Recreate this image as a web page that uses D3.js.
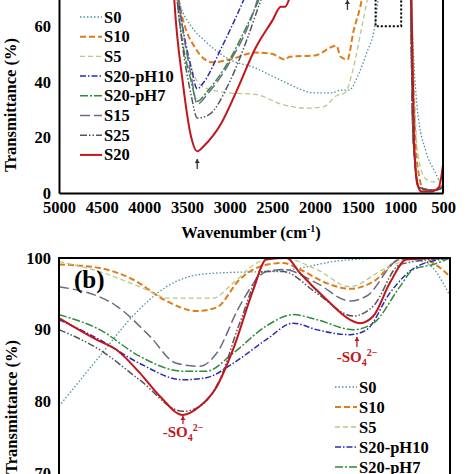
<!DOCTYPE html><html><head><meta charset="utf-8">
<script src="https://cdn.jsdelivr.net/npm/d3@7"></script>
<style>body{margin:0;background:#fff}text{font-family:"Liberation Serif",serif;font-weight:bold}</style>
</head><body><svg id="c" width="474" height="474"></svg>
<script>
// ---- Panel (a) data: [wavenumber, transmittance]
const seriesNames = ["S0","S10","S5","S20-pH10","S20-pH7","S15","S25","S20"];
const aS0 = [[3700,100],[3600,70],[3450,60],[3300,55],[3000,48],[2700,45],[2500,42],[2360,40],[2000,36],[1800,36],[1700,37],[1600,37],[1500,42],[1400,50],[1300,60],[1250,72],[1150,95],[1000,100],[900,99],[860,60],[800,30],[700,15],[600,8],[520,4],[500,5]];
const aS10 = [[3700,100],[3600,70],[3400,52],[3200,47],[3000,48],[2700,50.5],[2500,50],[2350,48],[2300,49],[2000,49.5],[1750,53],[1700,49],[1620,48],[1550,58],[1450,70],[1400,80],[1200,97],[1000,100],[900,99],[860,50],[800,10],[720,1],[600,1],[500,3]];
const aS5 = [[3700,100],[3600,70],[3450,45],[3300,38],[3000,36],[2700,35.5],[2400,32],[2100,30.5],[1900,31],[1750,35],[1650,36],[1550,45],[1450,60],[1350,75],[1200,95],[1000,100],[900,99],[860,60],[800,15],[700,5],[600,4],[500,5]];
const aPH10 = [[3700,100],[3600,70],[3450,45],[3380,37.5],[3300,40],[3100,52],[2900,65],[2800,72],[2600,88],[2300,98],[1500,99],[1000,100],[900,98],[850,20],[780,2],[600,1],[500,2]];
const aPH7 = [[3700,100],[3600,65],[3450,40],[3380,33],[3250,37],[3000,48],[2800,60],[2650,70],[2400,88],[2000,98],[1000,100],[900,98],[850,20],[780,2],[600,1],[500,2]];
const aS15 = [[3700,100],[3600,70],[3450,42],[3380,32],[3250,36],[3000,47],[2700,67],[2650,72],[2400,90],[2000,98],[1000,100],[900,98],[850,20],[780,2],[600,1],[500,2]];
const aS25 = [[3700,100],[3600,65],[3450,35],[3380,27],[3250,28],[3000,40],[2800,55],[2650,68],[2400,86],[2000,97],[1000,100],[900,98],[850,20],[780,2],[600,1],[500,2]];
const aS20 = [[3700,100],[3650,70],[3550,40],[3450,20],[3380,15],[3300,17],[3100,25],[2900,38],[2700,52],[2500,62],[2400,67],[2350,67],[2300,70],[2200,85],[2000,95],[1500,98],[1100,99],[900,98],[870,70],[840,20],[800,3],[750,0.5],[650,0.5],[550,2],[500,10]];
const aTicksX = [5000,4500,4000,3500,3000,2500,2000,1500,1000,500];
const aTicksY = [0,20,40,60];
// ---- Panel (b) data: [relative position 0..1, transmittance]
const bS0 = [[0,79.3],[.104,86.3],[.189,91.9],[.275,96],[.36,97.7],[.445,98],[.53,98.1],[.616,98.6],[.701,99.5],[.787,99.9],[.872,100],[.94,99.3],[1,94.7]];
const bS10 = [[0,99.1],[.104,98.6],[.189,97],[.275,94],[.352,92.6],[.403,93.1],[.462,97],[.514,98.8],[.573,99.3],[.616,98.4],[.684,96.5],[.744,95.7],[.804,96.7],[.872,99.8],[.923,100],[.957,99.3],[1,97.4]];
const bS5 = [[0,99.5],[.104,98.1],[.206,96],[.283,94.4],[.394,94.4],[.445,96.5],[.514,99.5],[.573,100],[.659,98.4],[.744,96],[.83,98.4],[.915,100],[1,100]];
const bPH10 = [[0,91.4],[.104,88.6],[.206,85.3],[.317,83],[.377,83.3],[.445,85.3],[.53,88.6],[.599,90.9],[.659,90],[.744,89.3],[.787,90],[.846,95.1],[.915,98.8],[1,100]];
const bPH7 = [[0,92.1],[.104,90],[.206,86.3],[.317,84.2],[.377,84.2],[.445,86.7],[.53,90.5],[.599,92.1],[.659,91.4],[.753,90],[.804,90.9],[.872,96],[.906,98.4],[.957,99.1],[1,100]];
const bS15 = [[0,96],[.147,93.3],[.232,89.1],[.3,85.3],[.36,84.9],[.403,86.7],[.462,93.3],[.53,98.1],[.573,98.4],[.659,96.5],[.744,94],[.787,94.7],[.872,99.8],[1,100]];
const bS25 = [[0,90],[.104,87.2],[.206,83],[.317,78.6],[.36,79.3],[.411,83],[.462,90.9],[.522,98.1],[.573,98.1],[.659,95.1],[.753,91.9],[.804,93.3],[.872,99.1],[1,100]];
const bS20 = [[0,91.6],[.096,88.6],[.147,87.2],[.206,84],[.258,80.7],[.317,78.1],[.36,79.3],[.403,82],[.445,87.2],[.497,95.6],[.53,99.8],[.582,100],[.616,97.9],[.684,94.2],[.744,91.4],[.77,90.9],[.804,91.9],[.846,96.5],[.889,99.8],[1,100]];
const bTicksY = [70,80,90,100];

const styles = {
  "S0":{c:"#4a90a4",d:"1.5,2",w:1.3},
  "S10":{c:"#e07b1a",d:"6,3",w:2},
  "S5":{c:"#b5c98a",d:"5,3",w:1.3},
  "S20-pH10":{c:"#2a2ab0",d:"6,2,1.5,2",w:1.5},
  "S20-pH7":{c:"#2e8b3a",d:"8,2,2,2",w:1.5},
  "S15":{c:"#6b6b80",d:"10,4",w:1.5},
  "S25":{c:"#555560",d:"7,2,1.5,2,1.5,2",w:1.5},
  "S20":{c:"#c0161c",d:null,w:2}
};
const aData = [aS0,aS10,aS5,aPH10,aPH7,aS15,aS25,aS20];
const bData = [bS0,bS10,bS5,bPH10,bPH7,bS15,bS25,bS20];
const svg = d3.select("#c");
const FS = 16.5;

// Panel a
const xa = d3.scaleLinear().domain([5000,500]).range([59,443]);
const ya = d3.scaleLinear().domain([0,100]).range([193,-85]);
const ga = svg.append("g");
ga.append("clipPath").attr("id","ca").append("rect").attr("x",59).attr("y",-90).attr("width",384).attr("height",283);
const la = d3.line().x(d=>xa(d[0])).y(d=>ya(d[1])).curve(d3.curveMonotoneX);
aData.forEach((s,i)=>{const st=styles[seriesNames[i]];
  ga.append("path").attr("clip-path","url(#ca)").attr("d",la(s.slice().sort((a,b)=>a[0]-b[0]))).attr("fill","none").attr("stroke",st.c).attr("stroke-width",st.w).attr("stroke-dasharray",st.d);});
ga.append("rect").attr("x",xa(1290)).attr("y",ya(60)-40).attr("width",xa(990)-xa(1290)).attr("height",40).attr("fill","none").attr("stroke","#000").attr("stroke-width",2).attr("stroke-dasharray","2,2");
ga.append("g").attr("transform","translate(0,193)").call(d3.axisBottom(xa).tickValues(aTicksX).tickSize(0).tickPadding(8).tickFormat(d3.format("d")))
  .call(g=>{g.select(".domain").attr("stroke-width",2);g.selectAll("text").attr("font-size",FS).attr("font-family","Liberation Serif").attr("fill","#000");});
ga.append("g").attr("transform","translate(59,0)").call(d3.axisLeft(ya).tickValues(aTicksY).tickSize(0).tickPadding(8))
  .call(g=>{g.select(".domain").attr("stroke-width",2);g.selectAll("text").attr("font-size",FS).attr("font-family","Liberation Serif").attr("fill","#000");});
ga.append("line").attr("x1",443).attr("x2",443).attr("y1",0).attr("y2",193).attr("stroke","#000").attr("stroke-width",2);
const wl = ga.append("text").attr("x",251).attr("y",238).attr("text-anchor","middle").attr("font-size",FS).text("Wavenumber (cm");
wl.append("tspan").attr("dy",-6).attr("font-size",10).text("-1");
wl.append("tspan").attr("dy",6).text(")");
svg.append("text").attr("transform","translate(16,105) rotate(-90)").attr("text-anchor","middle").attr("font-size",FS).text("Transmittance (%)");
function arrow(x,y1,y2,col){svg.append("line").attr("x1",x).attr("x2",x).attr("y1",y1).attr("y2",y2).attr("stroke",col).attr("stroke-width",1.3);
  svg.append("path").attr("d",`M${x-2.5},${y1+4}L${x},${y1}L${x+2.5},${y1+4}Z`).attr("fill",col);}
arrow(xa(3380),159,169,"#333"); arrow(xa(1620),0,10,"#333");
seriesNames.forEach((n,i)=>{const st=styles[n],y=17+i*19.7;
  svg.append("line").attr("x1",80).attr("x2",102).attr("y1",y).attr("y2",y).attr("stroke",st.c).attr("stroke-width",st.w).attr("stroke-dasharray",st.d);
  svg.append("text").attr("x",104).attr("y",y+5.5).attr("font-size",FS).text(n);});

// Panel b
const xb = d3.scaleLinear().domain([0,1]).range([59,450]);
const yb = d3.scaleLinear().domain([70,100]).range([473,258]);
svg.append("clipPath").attr("id","cb").append("rect").attr("x",59).attr("y",258).attr("width",391).attr("height",216);
const lb = d3.line().x(d=>xb(d[0])).y(d=>yb(d[1])).curve(d3.curveMonotoneX);
bData.forEach((s,i)=>{const st=styles[seriesNames[i]];
  svg.append("path").attr("clip-path","url(#cb)").attr("d",lb(s)).attr("fill","none").attr("stroke",st.c).attr("stroke-width",st.w).attr("stroke-dasharray",st.d);});
svg.append("rect").attr("x",59).attr("y",258).attr("width",391).attr("height",240).attr("fill","none").attr("stroke","#000").attr("stroke-width",2);
svg.append("g").attr("transform","translate(59,0)").call(d3.axisLeft(yb).tickValues(bTicksY).tickSize(0).tickPadding(8))
  .call(g=>{g.select(".domain").remove();g.selectAll("text").attr("font-size",FS).attr("font-family","Liberation Serif").attr("fill","#000");});
svg.append("text").attr("transform","translate(17,407) rotate(-90)").attr("text-anchor","middle").attr("font-size",FS).text("Transmittance (%)");
svg.append("text").attr("x",74).attr("y",288).attr("font-size",25).text("(b)");
function so4(x,y){const t=svg.append("text").attr("x",x).attr("y",y).attr("text-anchor","middle").attr("font-size",15).attr("fill","#c0161c").text("-SO");
  t.append("tspan").attr("dy",4).attr("font-size",10).text("4");t.append("tspan").attr("dy",-10).attr("font-size",10).text("2−");}
arrow(xb(.317),416,424,"#c0161c"); so4(183,437);
arrow(xb(.762),337,347,"#c0161c"); so4(357,362);
seriesNames.slice(0,5).forEach((n,i)=>{const st=styles[n],y=387+i*20;
  svg.append("line").attr("x1",335).attr("x2",357).attr("y1",y).attr("y2",y).attr("stroke",st.c).attr("stroke-width",st.w).attr("stroke-dasharray",st.d);
  svg.append("text").attr("x",359).attr("y",y+5.5).attr("font-size",FS).text(n);});
</script></body></html>
